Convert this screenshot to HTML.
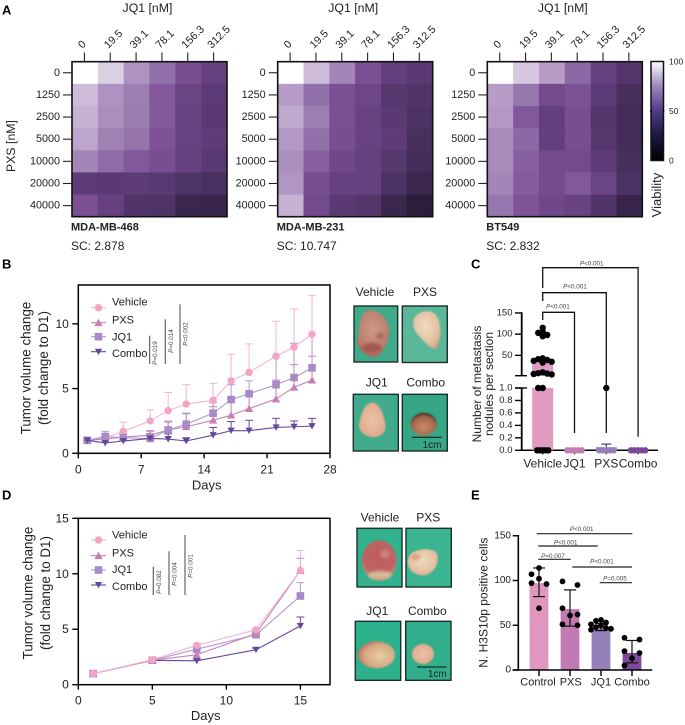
<!DOCTYPE html>
<html lang="en">
<head>
<meta charset="utf-8">
<title>Tumor viability figure</title>
<style>
html,body{margin:0;padding:0;background:#fff;}
body{width:685px;height:725px;overflow:hidden;}
svg{display:block;font-family:"Liberation Sans",Arial,sans-serif;fill:#222;}
.p{font-size:6.3px;fill:#444;}
.photo-label{font-size:12px;text-anchor:middle;dominant-baseline:central;}
.letter{font-size:13px;font-weight:bold;fill:#000;dominant-baseline:central;}
</style>
</head>
<body>
<svg id="figure" width="685" height="725" viewBox="0 0 685 725" xmlns="http://www.w3.org/2000/svg">
  <defs>
    <linearGradient id="cbar" x1="0" y1="0" x2="0" y2="1">
      <stop offset="0" stop-color="#ffffff"/>
      <stop offset="0.25" stop-color="#9c86bd"/>
      <stop offset="0.5" stop-color="#4f3b88"/>
      <stop offset="0.75" stop-color="#1f1640"/>
      <stop offset="1" stop-color="#000000"/>
    </linearGradient>
    <radialGradient id="t-red" cx="0.5" cy="0.4" r="0.7"><stop offset="0" stop-color="#cd9a84"/><stop offset="0.7" stop-color="#bb7d6c"/><stop offset="1" stop-color="#9c5450"/></radialGradient>
    <radialGradient id="t-tan" cx="0.45" cy="0.4" r="0.7"><stop offset="0" stop-color="#efdcc0"/><stop offset="0.7" stop-color="#e2be9f"/><stop offset="1" stop-color="#c2a07c"/></radialGradient>
    <radialGradient id="t-peach" cx="0.5" cy="0.5" r="0.7"><stop offset="0" stop-color="#ecc4a4"/><stop offset="0.8" stop-color="#dfa78f"/><stop offset="1" stop-color="#c68a76"/></radialGradient>
    <radialGradient id="t-dark" cx="0.5" cy="0.65" r="0.65"><stop offset="0" stop-color="#cb8a6a"/><stop offset="0.7" stop-color="#a8654a"/><stop offset="1" stop-color="#3a2a20"/></radialGradient>
    <radialGradient id="t-crimson" cx="0.5" cy="0.4" r="0.7"><stop offset="0" stop-color="#bf5a62"/><stop offset="0.65" stop-color="#bd6462"/><stop offset="1" stop-color="#d4b98e"/></radialGradient>
    <radialGradient id="t-mixed" cx="0.6" cy="0.55" r="0.7"><stop offset="0" stop-color="#e8d09e"/><stop offset="0.6" stop-color="#d5a884"/><stop offset="1" stop-color="#b8584e"/></radialGradient>
    <filter id="soft" x="-10%" y="-10%" width="120%" height="120%"><feGaussianBlur stdDeviation="0.7"/></filter>
    <filter id="softer" x="-30%" y="-30%" width="160%" height="160%"><feGaussianBlur stdDeviation="1.6"/></filter>
  </defs>

  <text class="letter" x="2" y="10">A</text>
  <text class="letter" x="2" y="264">B</text>
  <text class="letter" x="471" y="264">C</text>
  <text class="letter" x="2" y="495">D</text>
  <text class="letter" x="471" y="495">E</text>

  <g id="panel-a"></g>
  <g id="panel-b"></g>
  <g id="panel-c"></g>
  <g id="panel-d"></g>
  <g id="panel-e"></g>

  <g>
    <text class="photo-label" x="375" y="292">Vehicle</text>
    <text class="photo-label" x="425" y="292">PXS</text>
    <text class="photo-label" x="376.7" y="382.7">JQ1</text>
    <text class="photo-label" x="425.7" y="382.7">Combo</text>
    <g>
      <rect x="354" y="306" width="43.7" height="56" fill="#3faa8a" stroke="#1d2f2a" stroke-width="1.4"/>
      <path filter="url(#soft)" d="M366 311C375 308 387 316 389 328C390 340 384 352 376 357C368 358 358 350 357 342C360 332 358 318 366 311Z" fill="url(#t-red)"/>
      <ellipse filter="url(#softer)" cx="372" cy="348" rx="10" ry="5" fill="#93484a" opacity="0.75"/>
      <ellipse filter="url(#softer)" cx="380" cy="336" rx="4" ry="3" fill="#9b5650" opacity="0.7"/>
    </g>
    <g>
      <rect x="402.3" y="306" width="45" height="56.5" fill="#5ab79a" stroke="#1d2f2a" stroke-width="1.4"/>
      <path filter="url(#soft)" d="M414 318C420 310 434 308 438 318C441 326 442 340 436 349C430 350 424 340 418 335C414 330 412 324 414 318Z" fill="url(#t-tan)"/>
    </g>
    <g>
      <rect x="353.3" y="394.3" width="45" height="56.7" fill="#40ab8b" stroke="#1d2f2a" stroke-width="1.4"/>
      <path filter="url(#soft)" d="M370 403C378 400 383 412 385 422C388 432 380 438 372 437C364 436 358 430 359 424C361 416 363 406 370 403Z" fill="url(#t-peach)"/>
    </g>
    <g>
      <rect x="402.3" y="394.3" width="45" height="56.7" fill="#35a785" stroke="#1d2f2a" stroke-width="1.4"/>
      <ellipse filter="url(#soft)" cx="423.7" cy="424" rx="13" ry="11.3" fill="url(#t-dark)"/>
      <line x1="411.7" y1="437.3" x2="441.7" y2="437.3" stroke="#111" stroke-width="1"/>
      <text x="432" y="445.7" font-size="10" text-anchor="middle" dominant-baseline="central">1cm</text>
    </g>
  </g>

  <g>
    <text class="photo-label" x="380" y="517.3">Vehicle</text>
    <text class="photo-label" x="428.3" y="517.3">PXS</text>
    <text class="photo-label" x="377.3" y="611">JQ1</text>
    <text class="photo-label" x="427.3" y="611">Combo</text>
    <g>
      <rect x="357" y="528.3" width="45" height="58.7" fill="#32b18d" stroke="#1d2f2a" stroke-width="1.4"/>
      <ellipse filter="url(#soft)" cx="379.2" cy="560.5" rx="17.5" ry="20" fill="url(#t-crimson)"/>
      <ellipse filter="url(#softer)" cx="380" cy="575" rx="12" ry="4" fill="#dcc9a0" opacity="0.85"/>
      <ellipse filter="url(#softer)" cx="385" cy="554" rx="5" ry="4" fill="#cf8f86" opacity="0.8"/>
    </g>
    <g>
      <rect x="406" y="528.3" width="45.3" height="58.7" fill="#3bb492" stroke="#1d2f2a" stroke-width="1.4"/>
      <path filter="url(#soft)" d="M412 553C420 548 432 548 437 553C440 560 436 572 426 575C418 577 410 572 408 565C407 560 409 555 412 553Z" fill="url(#t-tan)"/>
      <ellipse filter="url(#softer)" cx="416" cy="557" rx="5" ry="3" fill="#d88a66" opacity="0.7"/>
    </g>
    <g>
      <rect x="355.3" y="621.3" width="45.4" height="59" fill="#2db18c" stroke="#1d2f2a" stroke-width="1.4"/>
      <ellipse filter="url(#soft)" cx="376.5" cy="654.8" rx="18.5" ry="13.5" fill="url(#t-mixed)"/>
    </g>
    <g>
      <rect x="405.7" y="621.3" width="45.3" height="59" fill="#31ae8b" stroke="#1d2f2a" stroke-width="1.4"/>
      <ellipse filter="url(#soft)" cx="423" cy="654" rx="11" ry="10" fill="url(#t-peach)"/>
      <line x1="417" y1="667" x2="446.7" y2="667" stroke="#111" stroke-width="1"/>
      <text x="437.3" y="674.3" font-size="10" text-anchor="middle" dominant-baseline="central">1cm</text>
    </g>
  </g>
</svg>

<script>
// ---------- Panel A data ----------
const jq1Doses = ['0','19.5','39.1','78.1','156.3','312.5'];
const pxsDoses = ['0','1250','2500','5000','10000','20000','40000'];
const viabilityTicks = [0,50,100];
const heatMda468 = [
  [100,87,72,62,52,45],
  [82,72,66,56,47,41],
  [80,71,65,56,46,40],
  [77,67,63,54,46,42],
  [68,61,56,52,45,39],
  [41,40,41,39,35,33],
  [53,45,36,35,27,26]
];
const heatMda231 = [
  [100,82,68,53,44,40],
  [75,62,53,48,38,36],
  [78,66,53,46,40,34],
  [74,62,52,46,42,32],
  [71,58,49,45,38,31],
  [73,52,45,45,34,27],
  [80,50,40,37,27,20]
];
const heatBt549 = [
  [100,85,75,60,45,37],
  [75,64,50,54,41,32],
  [74,56,44,52,37,31],
  [70,60,44,52,38,31],
  [70,58,50,50,42,32],
  [68,57,51,56,47,34],
  [64,55,49,46,36,26]
];
// ---------- Panel B data ----------
const bDays = [1,3,5,8,10,12,15,17,19,22,24,26];
const bVehicle = [1,1.2,1.7,2.5,3.3,3.8,4.1,5.6,6.25,7.5,8.2,9.2];
const bVehicleUpper = [1,1.3,2.4,3.35,4.7,5.3,5.4,7.65,8.45,10.2,11.15,12.2];
const bPxs = [1,1.1,1.25,1.4,1.8,2.05,2.55,2.95,3.45,4.2,5.1,5.65];
const bPxsUpper = [1,1.5,1.5,1.75,2.4,3.1,3.6,4.2,4.6,5.65,6.85,7.5];
const bJq1 = [1,1.3,1.2,1.15,1.8,2.25,3.1,4.15,4.6,5.3,5.85,6.6];
const bJq1Upper = [1,1.7,1.5,1.7,2.5,3.05,3.9,5.3,5.6,7.5,8.5,9.2];
const bCombo = [1,0.8,0.95,1.15,1.1,0.95,1.4,1.75,1.75,2,2.05,2.1];
const bComboUpper = [1,1.05,1.2,1.5,1.5,1.2,2,2.45,2.55,2.7,2.5,2.7];
const bXTicks = [0,7,14,21,28];
const bYTicks = [0,5,10];
// ---------- Panel D data ----------
const dDays = [1,5,8,12,15];
const dVehicle = [1,2.25,3.55,4.95,10.3];
const dVehicleUpper = [1,2.4,3.7,5.1,12.1];
const dPxs = [1,2.2,2.7,4.6,10.3];
const dPxsUpper = [1,2.3,2.9,4.8,11.4];
const dJq1 = [1,2.2,3.2,4.5,8];
const dJq1Upper = [1,2.3,3.4,4.7,9.2];
const dCombo = [1,2.2,2.15,3.15,5.3];
const dComboUpper = [1,2.3,2.3,3.3,6.1];
const dXTicks = [0,5,10,15];
const dYTicks = [0,5,10,15];
// ---------- Panel C data ----------
const cCategories = ['Vehicle','JQ1','PXS','Combo'];
const cMeans = [38,0,0.05,0];
const cUpper = [44,0,0.1,0];
const cDots = [
  [115,105,103,98,95,43,41,39,37,35,33,10,8,7,6,5,1,1,0,0,0,0,0],
  [0,0,0,0,0],
  [1,0,0,0,0,0],
  [0,0,0,0,0]
];
const cUpperTicks = [50,100,150];
const cLowerTicks = [0,0.2,0.4,0.6,0.8,1];
// ---------- Panel E data ----------
const eCategories = ['Control','PXS','JQ1','Combo'];
const eMeans = [97,68,48,19];
const eUpper = [114,89.5,52,33];
const eLower = [82,49,44,8];
const eDots = [
  [114,107,102,97,96,69],
  [99,95,69,62,61,51,50],
  [56,55,53,51,50,48,47,46,45],
  [36,34,21,19,13,5]
];
const eTicks = [0,50,100,150];

// ---------- helpers ----------
const NS = 'http://www.w3.org/2000/svg';
function add(parent, tag, attrs, text) {
  const n = document.createElementNS(NS, tag);
  for (const k in attrs) n.setAttribute(k, attrs[k]);
  if (text !== undefined) n.textContent = text;
  parent.appendChild(n);
  return n;
}
function line(parent, name, x1, y1, x2, y2, stroke, w) {
  const n = add(parent, 'line', {x1, y1, x2, y2, stroke: stroke || '#000', 'stroke-width': w || 1.4});
  
  
  return n;
}
function label(parent, name, x, y, str, size, anchor, extra) {
  const n = add(parent, 'text', Object.assign({x, y, 'font-size': size, 'text-anchor': anchor || 'middle', 'dominant-baseline': 'central'}, extra || {}), str);
  
  
  return n;
}
function vlabel(parent, name, x, y, str, size) {
  return label(parent, name, x, y, str, size, 'middle', {transform: 'rotate(-90 ' + x + ' ' + y + ')'});
}
function pLabel(parent, name, x, y, prefix, rest, rotate) {
  const attrs = {x, y, class: 'p', 'text-anchor': 'middle', 'dominant-baseline': 'central'};
  if (rotate) attrs.transform = 'rotate(-90 ' + x + ' ' + y + ')';
  const n = add(parent, 'text', attrs);
  
  
  add(n, 'tspan', {'font-style': 'italic'}, prefix);
  add(n, 'tspan', {}, rest);
  return n;
}
// Beeswarm: sorted high to low, each dot takes the first free slot beside the centre.
function swarm(values, step, minDist, yOf, order) {
  const placed = [];
  const sorted = values.slice().sort((a, b) => b - a);
  sorted.forEach(v => {
    const y = yOf(v);
    for (let i = 0; i < 40; i++) {
      const k = order[i % order.length] * (Math.floor(i / order.length) + 1);
      const off = k * step;
      const hit = placed.some(p => Math.hypot(p.off - off, p.y - y) < minDist);
      if (!hit) { placed.push({v, y, off}); break; }
    }
  });
  return placed;
}

// ---------- heatmaps ----------
const colorStops = [[0,'#0a0510'],[25,'#362348'],[35,'#4f3468'],[45,'#66407f'],[55,'#7f5399'],[65,'#9a7cb0'],[75,'#b79cc8'],[85,'#d6c8e0'],[100,'#ffffff']];
function hexRgb(h) { return [1,3,5].map(i => parseInt(h.substr(i,2),16)); }
function viabilityColor(v) {
  for (let i = 1; i < colorStops.length; i++) {
    if (v <= colorStops[i][0]) {
      const a = colorStops[i-1], b = colorStops[i];
      const t = (v - a[0]) / (b[0] - a[0]);
      const ca = hexRgb(a[1]), cb = hexRgb(b[1]);
      return 'rgb(' + ca.map((c,j) => Math.round(c + (cb[j]-c)*t)).join(',') + ')';
    }
  }
  return '#ffffff';
}
function drawHeatmap(parent, matrix, x0, title, sc) {
  const g = add(parent, 'g', {});
  
  
  const y0 = 61.7, W = 155, H = 155;
  const cw = W / jq1Doses.length, ch = H / pxsDoses.length;
  matrix.forEach((row, r) => row.forEach((v, c) => {
    const cell = add(g, 'rect', {x: x0 + c*cw, y: y0 + r*ch, width: cw + 0.3, height: ch + 0.3, fill: viabilityColor(v)});
    
    
  }));
  const border = add(g, 'rect', {x: x0, y: y0, width: W, height: H, fill: 'none', stroke: '#111', 'stroke-width': 1.6});
  
  
  jq1Doses.forEach((d, c) => {
    const x = x0 + (c + 0.5)*cw - 0.5;
    line(g, 'jq1-tick', x, 52.5, x, y0, '#222', 1.1);
    const t = add(g, 'text', {x: 0, y: 0, 'font-size': 10.8, transform: 'translate(' + (x - 2) + ',49) rotate(-45)'}, d);
    
    
  });
  pxsDoses.forEach((d, r) => {
    const y = y0 + (r + 0.5)*ch;
    line(g, 'pxs-tick', x0 - 9, y, x0, y, '#222', 1.1);
    label(g, 'pxs-tick-label', x0 - 12, y, d, 10.8, 'end');
  });
  label(g, 'jq1-axis-title', x0 + 75.5, 8, 'JQ1 [nM]', 12.3);
  label(g, 'cell-line-name', x0 - 1, 227.5, title, 11, 'start', {'font-weight': 'bold'});
  label(g, 'synergy-score', x0 - 1, 246, sc, 12, 'start');
}
const panelA = document.getElementById('panel-a');
drawHeatmap(panelA, heatMda468, 72, 'MDA-MB-468', 'SC: 2.878');
drawHeatmap(panelA, heatMda231, 277.7, 'MDA-MB-231', 'SC: 10.747');
drawHeatmap(panelA, heatBt549, 487.3, 'BT549', 'SC: 2.832');
vlabel(panelA, 'pxs-axis-title', 11, 146, 'PXS [nM]', 12.3);
(function () {
  const cb = add(panelA, 'rect', {x: 651, y: 61.5, width: 12.5, height: 99, fill: 'url(#cbar)', stroke: '#111', 'stroke-width': 1.5});
  
  
  const yCb = v => 160.5 - v*0.99;
  viabilityTicks.forEach(v => {
    label(panelA, 'colorbar-tick-label', 669, yCb(v), String(v), 8.5, 'start');
  });
  line(panelA, 'colorbar-mid-tick', 650, yCb(50), 652, yCb(50), '#000', 1);
  line(panelA, 'colorbar-mid-tick', 662.5, yCb(50), 664.5, yCb(50), '#000', 1);
  vlabel(panelA, 'colorbar-title', 656.7, 195, 'Viability', 13);
})();

// ---------- line charts ----------
const seriesStyle = {
  Vehicle: {color: '#f3a5c6', line: '#f6b4cf'},
  PXS: {color: '#c77fb6', line: '#c77fb6'},
  JQ1: {color: '#a78bc6', line: '#b29acf'},
  Combo: {color: '#66479f', line: '#66479f'}
};
function marker(parent, name, kind, x, y, color) {
  let n;
  if (kind === 'Vehicle') n = add(parent, 'circle', {cx: x, cy: y, r: 3.7, fill: color});
  else if (kind === 'PXS') n = add(parent, 'polygon', {points: (x-4.2)+','+(y+3.4)+' '+(x+4.2)+','+(y+3.4)+' '+x+','+(y-3.9), fill: color});
  else if (kind === 'JQ1') n = add(parent, 'rect', {x: x-3.8, y: y-3.8, width: 7.6, height: 7.6, fill: color});
  else n = add(parent, 'polygon', {points: (x-3.6)+','+(y-3)+' '+(x+3.6)+','+(y-3)+' '+x+','+(y+3.4), fill: color});
  
  
  return n;
}
function drawLineChart(parent, opt) {
  const xS = v => opt.x0 + (v - 0) * (opt.x1 - opt.x0) / opt.xMax;
  const yS = v => opt.yBottom - v * (opt.yBottom - opt.yTop) / opt.yMax;
  const frame = add(parent, 'rect', {x: opt.x0, y: opt.yTop, width: opt.x1 - opt.x0, height: opt.yBottom - opt.yTop, fill: 'none', stroke: '#000', 'stroke-width': 1.5});
  
  
  opt.xTicks.forEach(t => {
    line(parent, 'x-tick', xS(t), opt.yBottom, xS(t), opt.yBottom + 5);
    label(parent, 'x-tick-label', xS(t), opt.yBottom + 16, String(t), 12);
  });
  opt.yTicks.forEach(t => {
    line(parent, 'y-tick', opt.x0 - 6, yS(t), opt.x0, yS(t));
    label(parent, 'y-tick-label', opt.x0 - 9.5, yS(t), String(t), 12, 'end');
  });
  opt.series.forEach(s => {
    const st = seriesStyle[s.name];
    s.values.forEach((v, i) => {
      const x = xS(opt.days[i]);
      line(parent, s.name.toLowerCase() + '-error-bar', x, yS(v), x, yS(s.upper[i]), st.line, 1);
      line(parent, s.name.toLowerCase() + '-error-cap', x - 4, yS(s.upper[i]), x + 4, yS(s.upper[i]), st.line, 1);
    });
  });
  opt.series.forEach(s => {
    const st = seriesStyle[s.name];
    const pts = s.values.map((v, i) => xS(opt.days[i]) + ',' + yS(v)).join(' ');
    const pl = add(parent, 'polyline', {points: pts, fill: 'none', stroke: st.line, 'stroke-width': 1.1});
    
    
    s.values.forEach((v, i) => marker(parent, s.name.toLowerCase() + '-point', s.name, xS(opt.days[i]), yS(v), st.color));
  });
  ['Vehicle','PXS','JQ1','Combo'].forEach((nm, i) => {
    const y = opt.legendY[i];
    const st = seriesStyle[nm];
    line(parent, 'legend-line-' + nm.toLowerCase(), 91, y, 106, y, st.line, 1.1);
    marker(parent, 'legend-marker-' + nm.toLowerCase(), nm, 98.5, y, st.color);
    label(parent, 'legend-label-' + nm.toLowerCase(), 112, opt.legendTextY[i], nm, 11, 'start');
  });
  opt.sig.forEach(s => {
    line(parent, 'significance-bar', s.x, s.top, s.x, opt.sigBottom, '#555', 1.1);
    pLabel(parent, 'significance-label', s.x + 5.5, s.cy, 'P', s.text, true);
  });
  label(parent, 'x-axis-title', opt.xTitleX, opt.xTitleY, 'Days', 13);
  vlabel(parent, 'y-axis-title-line-1', opt.y1X, opt.yTitleY, 'Tumor volume change', 13.4);
  vlabel(parent, 'y-axis-title-line-2', opt.y1X + 17.5, opt.yTitleY, '(fold change to D1)', 13.4);
}
drawLineChart(document.getElementById('panel-b'), {
  x0: 78.3, x1: 330, yTop: 285, yBottom: 453.3, xMax: 28, yMax: 13,
  days: bDays, xTicks: bXTicks, yTicks: bYTicks,
  series: [
    {name: 'Vehicle', values: bVehicle, upper: bVehicleUpper},
    {name: 'PXS', values: bPxs, upper: bPxsUpper},
    {name: 'JQ1', values: bJq1, upper: bJq1Upper},
    {name: 'Combo', values: bCombo, upper: bComboUpper}
  ],
  legendY: [307.7, 322.7, 336.7, 351.7],
  legendTextY: [302.7, 320.7, 337.3, 354],
  sig: [
    {x: 149.7, top: 335.7, cy: 353, text: '=0.019'},
    {x: 165.3, top: 319.3, cy: 341, text: '=0.014'},
    {x: 180, top: 304.3, cy: 334, text: '=0.002'}
  ],
  sigBottom: 364,
  xTitleX: 206.7, xTitleY: 485, y1X: 26, yTitleY: 368
});
drawLineChart(document.getElementById('panel-d'), {
  x0: 78.3, x1: 330, yTop: 518.3, yBottom: 684.7, xMax: 17, yMax: 15,
  days: dDays, xTicks: dXTicks, yTicks: dYTicks,
  series: [
    {name: 'Combo', values: dCombo, upper: dComboUpper},
    {name: 'JQ1', values: dJq1, upper: dJq1Upper},
    {name: 'PXS', values: dPxs, upper: dPxsUpper},
    {name: 'Vehicle', values: dVehicle, upper: dVehicleUpper}
  ],
  legendY: [540, 555.7, 570, 585],
  legendTextY: [535.7, 553.3, 570, 587],
  sig: [
    {x: 153.3, top: 566.7, cy: 582, text: '=0.082'},
    {x: 169, top: 551.3, cy: 574, text: '=0.004'},
    {x: 185, top: 535, cy: 566, text: '=0.001'}
  ],
  sigBottom: 595,
  xTitleX: 205.7, xTitleY: 715.7, y1X: 28, yTitleY: 593
});

// ---------- Panel C ----------
(function () {
  const g = document.getElementById('panel-c');
  const axisX = 521.7, y0 = 450.3, breakY = 375.7;
  const yC = v => v <= 1 ? y0 - v*62.3 : breakY - (v - 2)*0.424;
  const xC = i => 542.7 + i*31.8;
  const barColors = ['#e19bc0','#c57cb3','#9680bc','#7c4a9c'];
  line(g, 'y-axis-upper', axisX, yC(150) - 0.7, axisX, breakY, '#000', 1.8);
  line(g, 'y-axis-lower', axisX, yC(1), axisX, y0 + 0.7, '#000', 1.8);
  line(g, 'y-axis-break-cap', 515, breakY, 527, breakY, '#000', 1.4);
  line(g, 'y-axis-break-cap-lower', 515, yC(1), 527, yC(1), '#000', 1.4);
  cUpperTicks.forEach(t => {
    line(g, 'y-tick', 515, yC(t), axisX, yC(t), '#000', 1.4);
    label(g, 'y-tick-label', 512.5, yC(t), String(t), 9.5, 'end');
  });
  cLowerTicks.forEach(t => {
    line(g, 'y-tick', 515, yC(t), axisX, yC(t), '#000', 1.4);
    label(g, 'y-tick-label', 512.5, yC(t), t.toFixed(1), 9.5, 'end');
  });
  line(g, 'x-axis', axisX, y0, 658, y0, '#000', 1.5);
  cCategories.forEach((c, i) => {
    const x = xC(i);
    if (cMeans[i] > 1) {
      const lo = add(g, 'rect', {x: x - 10.5, y: yC(1), width: 21, height: y0 - yC(1), fill: barColors[i]});
      
      
      const hi = add(g, 'rect', {x: x - 10.5, y: yC(cMeans[i]), width: 21, height: breakY - yC(cMeans[i]), fill: barColors[i]});
      
      
    } else if (cMeans[i] > 0) {
      const b = add(g, 'rect', {x: x - 10.5, y: yC(cMeans[i]), width: 21, height: y0 - yC(cMeans[i]), fill: barColors[i]});
      
      
    }
    if (cUpper[i] > cMeans[i]) {
      line(g, 'error-bar', x, yC(cMeans[i]), x, yC(cUpper[i]), '#222', 1);
      line(g, 'error-cap', x - 5, yC(cUpper[i]), x + 5, yC(cUpper[i]), '#222', 1);
    }
    line(g, 'x-tick', x, y0, x, y0 + 4, '#000', 1.3);
    const positive = cDots[i].filter(v => v > 0);
    const zeros = cDots[i].filter(v => v === 0);
    const placed = swarm(positive, 4.5, 4.2, yC, [0,-1,1]).concat(swarm(zeros, i === 0 ? 2.8 : 3.6, 2.7, yC, [0,1,-1]));
    placed.forEach(d => {
      const dot = add(g, 'circle', {cx: x + d.off, cy: d.y, r: 3.2, fill: (i > 0 && d.v === 0) ? barColors[i] : '#000'});
      
      
    });
    label(g, 'x-tick-label', x, 463.3, c, 12);
  });
  const br = (name, x1, yStart, yTop, x2, yEnd) => {
    const p = add(g, 'polyline', {points: x1+','+yStart+' '+x1+','+yTop+' '+x2+','+yTop+' '+x2+','+yEnd, fill: 'none', stroke: '#111', 'stroke-width': 1.3});
    
    
  };
  br('bracket-vehicle-jq1', xC(0), 320, 312.3, xC(1), 433);
  br('bracket-vehicle-pxs', xC(0), 301, 292.7, xC(2), 433);
  br('bracket-vehicle-combo', xC(0), 288, 267.7, xC(3), 436.7);
  pLabel(g, 'bracket-label-jq1', 558, 306.7, 'P', '<0.001');
  pLabel(g, 'bracket-label-pxs', 575, 286.7, 'P', '<0.001');
  pLabel(g, 'bracket-label-combo', 591.7, 263.3, 'P', '<0.001');
  vlabel(g, 'y-axis-title-line-1', 477, 384, 'Number of metastasis', 12);
  vlabel(g, 'y-axis-title-line-2', 489, 384, 'nodules per section', 12);
})();

// ---------- Panel E ----------
(function () {
  const g = document.getElementById('panel-e');
  const axisX = 518.3, y0 = 670;
  const yE = v => y0 - v*0.895;
  const xE = i => 539 + i*31;
  const barColors = ['#e097bf','#c17ab2','#9580b9','#7c4a9c'];
  const swarmOrder = [[0,-1,1],[-1,1,0],[0,-1,1],[-1,1,0]];
  const swarmStep = [7.5,7.5,5,7.5];
  eCategories.forEach((c, i) => {
    const x = xE(i);
    const b = add(g, 'rect', {x: x - 9.4, y: yE(eMeans[i]), width: 18.8, height: y0 - yE(eMeans[i]), fill: barColors[i]});
    
    
    line(g, 'error-bar', x, yE(eUpper[i]), x, yE(eLower[i]), '#111', 1.2);
    line(g, 'error-cap-top', x - 6, yE(eUpper[i]), x + 6, yE(eUpper[i]), '#111', 1.2);
    line(g, 'error-cap-bottom', x - 6, yE(eLower[i]), x + 6, yE(eLower[i]), '#111', 1.2);
    swarm(eDots[i], swarmStep[i], i === 2 ? 4.5 : 7.5, yE, swarmOrder[i]).forEach(d => {
      const dot = add(g, 'circle', {cx: x + d.off, cy: d.y, r: 2.9, fill: '#000'});
      
      
    });
    line(g, 'x-tick', x, y0, x, y0 + 6, '#000', 1.4);
    label(g, 'x-tick-label', i === 1 ? x + 0.7 : (i === 0 ? x - 1 : x), 682.3, c, 11);
  });
  line(g, 'y-axis', axisX, yE(150) - 0.7, axisX, y0 + 0.7, '#000', 1.6);
  line(g, 'x-axis', 512.7, y0, 652.3, y0, '#000', 1.5);
  eTicks.forEach(t => {
    line(g, 'y-tick', 512.7, yE(t), axisX, yE(t), '#000', 1.4);
    label(g, 'y-tick-label', 511, yE(t), String(t), 10, 'end');
  });
  const sig = (name, x1, x2, y, lx, ly, txt) => {
    line(g, 'significance-line-' + name, x1, y, x2, y, '#222', 1.2);
    pLabel(g, 'significance-label-' + name, lx, ly, 'P', txt);
  };
  sig('control-combo', 536.7, 632.3, 533.7, 581.7, 529, '<0.001');
  sig('control-jq1', 538.3, 597.7, 546, 565.7, 542.5, '<0.001');
  sig('control-pxs', 538.3, 570.7, 559.3, 553, 556, '=0.007');
  sig('pxs-combo', 572.3, 632, 567, 602, 561.5, '<0.001');
  sig('jq1-combo', 599.7, 632, 582.7, 615, 578.7, '=0.005');
  vlabel(g, 'y-axis-title', 483.3, 602.7, 'N. H3S10p positive cells', 12);
})();
</script>
</body>
</html>
